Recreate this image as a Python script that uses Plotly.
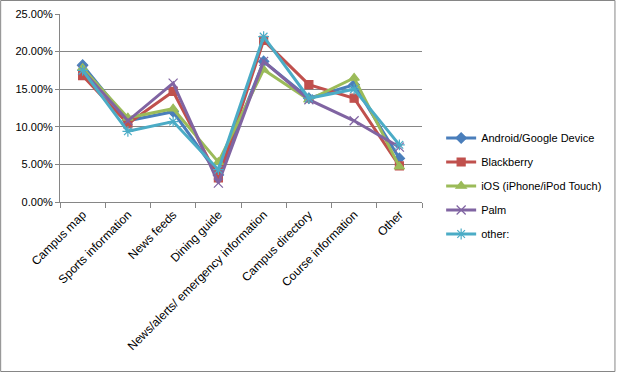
import plotly.graph_objects as go

categories = ["Campus map", "Sports information", "News feeds", "Dining guide",
              "News/alerts/ emergency information", "Campus directory",
              "Course information", "Other"]

android = [0.182, 0.108, 0.120, 0.036, 0.187, 0.138, 0.156, 0.058]
blackberry = [0.168, 0.104, 0.147, 0.032, 0.215, 0.156, 0.138, 0.048]
ios = [0.178, 0.112, 0.124, 0.053, 0.176, 0.136, 0.165, 0.047]
palm = [0.175, 0.108, 0.158, 0.025, 0.187, 0.136, 0.108, 0.073]
other = [0.175, 0.094, 0.107, 0.043, 0.220, 0.138, 0.150, 0.076]

series = [
    ("Android/Google Device", android, "#4A7EBB", "diamond", 8),
    ("Blackberry", blackberry, "#C0504D", "square", 8),
    ("iOS (iPhone/iPod Touch)", ios, "#9BBB59", "triangle-up", 9),
    ("Palm", palm, "#8064A2", "x-thin-open", 9),
    ("other:", other, "#4BACC6", "asterisk-open", 9),
]

fig = go.Figure()
for name, vals, col, sym, sz in series:
    fig.add_trace(go.Scatter(
        x=categories, y=vals, name=name, mode="lines+markers",
        legendgroup=name,
        line=dict(color=col, width=3),
        marker=dict(symbol=sym, size=sz, color=col,
                    line=dict(color=col, width=1.2)),
    ))

fig.update_layout(
    width=618, height=373,
    margin=dict(l=60, r=195, t=14, b=171),
    paper_bgcolor="white", plot_bgcolor="white",
    font=dict(family="Liberation Sans, Arial", size=11, color="#000000"),
    legend=dict(x=1.05, y=0.085, xanchor="left", yanchor="middle",
                tracegroupgap=5, font=dict(size=11),
                itemwidth=30),
    showlegend=True,
)
fig.update_xaxes(
    type="category", tickangle=-45, showgrid=False, automargin=False,
    tickfont=dict(size=12),
    showline=True, linecolor="#868686", linewidth=1,
    ticks="outside", tickson="boundaries", ticklen=5, tickcolor="#868686",
    range=[-0.5, len(categories) - 0.5],
)
fig.update_yaxes(
    range=[0, 0.25], dtick=0.05, tickformat=".2%", automargin=False,
    showgrid=True, gridcolor="#868686", gridwidth=1,
    showline=True, linecolor="#868686", linewidth=1,
    ticks="outside", ticklen=4, tickcolor="#868686",
    zeroline=False,
)
fig.add_shape(type="rect", xref="paper", yref="paper",
              x0=-59.5 / 363, x1=(618 - 60 - 1.5) / 363,
              y0=-169.5 / 188, y1=(188 + 13.5) / 188,
              line=dict(color="#868686", width=1))

fig.write_html("out.html", config={"displayModeBar": False},
               post_script="document.body.style.margin='0';")
